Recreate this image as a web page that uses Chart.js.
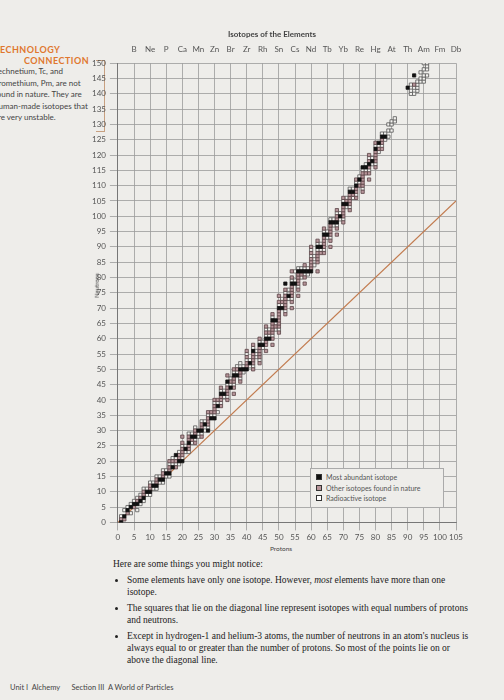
<!DOCTYPE html>
<html>
<head>
<meta charset="utf-8">
<script src="https://cdn.jsdelivr.net/npm/chart.js@4/dist/chart.umd.min.js"></script>
<style>
  html, body { margin: 0; padding: 0; }
  body { width: 504px; height: 700px; background: #eeedea; position: relative; overflow: hidden; font-family: Lato, sans-serif; color: #333; }
  #wrap { position: absolute; left: 88px; top: 30px; width: 390px; height: 514px; }
  #side { position: absolute; left: -6px; top: 44px; width: 100px; font-size: 8px; line-height: 11.5px; color: #444; }
  #side .h { color: #e0772e; font-weight: bold; font-size: 9px; letter-spacing: 0.5px; line-height: 11px; }
  #side .h2 { padding-left: 30px; }
  #bracket { position: absolute; left: 96px; top: 60px; width: 8px; height: 70px; border: 1px solid #c8a080; border-left: none; }
  #legend { position: absolute; left: 310px; top: 468px; width: 122px; border: 1px solid #aaa; background: #eeedea; font-size: 7px; color: #555; padding: 3px 5px; line-height: 10.5px; }
  #legend span { display: inline-block; width: 4px; height: 4px; margin-right: 4px; border: 1px solid #333; }
  #ylab { position: absolute; left: 84px; top: 282px; font-size: 6px; transform: rotate(-90deg); color: #444; }
  #xlab { position: absolute; left: 270px; top: 545px; font-size: 6.5px; color: #444; }
  #text { position: absolute; left: 113px; top: 558px; width: 360px; font-family: "Liberation Serif", serif; font-size: 9.5px; line-height: 12px; color: #222; }
  #text ul { margin: 4px 0 0 0; padding-left: 14px; }
  #text li { margin-bottom: 4px; }
  #foot { position: absolute; left: 10px; top: 683px; font-size: 7.5px; color: #444; }
</style>
</head>
<body>
<div id="side">
  <div class="h">TECHNOLOGY</div>
  <div class="h h2">CONNECTION</div>
  Technetium, Tc, and promethium, Pm, are not found in nature. They are human-made isotopes that are very unstable.
</div>
<div id="bracket"></div>
<div id="wrap"><canvas id="grafico-isotopos"></canvas></div>
<div id="ylab">Neutrons</div>
<div id="xlab">Protons</div>
<div id="legend">
  <div><span style="background:#111"></span>Most abundant isotope</div>
  <div><span style="background:#b8969b"></span>Other isotopes found in nature</div>
  <div><span style="background:#fff"></span>Radioactive isotope</div>
</div>
<div id="text">
  Here are some things you might notice:
  <ul>
    <li>Some elements have only one isotope. However, <i>most</i> elements have more than one isotope.</li>
    <li>The squares that lie on the diagonal line represent isotopes with equal numbers of protons and neutrons.</li>
    <li>Except in hydrogen-1 and helium-3 atoms, the number of neutrons in an atom's nucleus is always equal to or greater than the number of protons. So most of the points lie on or above the diagonal line.</li>
  </ul>
</div>
<div id="foot">Unit I &nbsp;Alchemy &nbsp;&nbsp;&nbsp;&nbsp;&nbsp;Section III &nbsp;A World of Particles</div>
<script>
(function () {
    'use strict';

    // element symbols along the top axis, every 5 protons
    var elementLabels = ['', 'B', 'Ne', 'P', 'Ca', 'Mn', 'Zn', 'Br', 'Zr', 'Rh', 'Sn', 'Cs', 'Nd', 'Tb', 'Yb', 'Re', 'Hg', 'At', 'Th', 'Am', 'Fm', 'Db'];

    // neutrons of the most abundant isotope, indexed by protons (null = none)
    var mostAbundantN = [null,
        0, 2, 4, 5, 6, 6, 7, 8, 10, 10, 12, 12, 14, 14, 16, 16, 18, 22, 20, 20,
        24, 26, 28, 28, 30, 30, 32, 30, 34, 34, 38, 42, 42, 46, 44, 48, 48, 50, 50, 50,
        52, 56, null, 58, 58, 60, 60, 66, 66, 70, 70, 78, 74, 78, 78, 82, 82, 82, 82, 82,
        null, 90, 90, 94, 94, 98, 98, 98, 100, 104, 104, 108, 108, 110, 112, 116, 116, 117, 118, 122,
        124, 126, 126, null, null, null, null, null, null, 142, null, 146, null, null, null];

    // other naturally occurring isotopes (neutrons), indexed by protons
    var otherN = [[],
        [1], [1], [3], [], [5], [7], [8], [9, 10], [], [11, 12],
        [], [13, 14], [], [15, 16], [], [17, 18, 20], [20], [18, 20], [21, 22], [22, 23, 24, 26, 28],
        [], [24, 25, 27, 28], [27], [26, 29, 30], [], [28, 31, 32], [], [32, 33, 34, 36], [36], [36, 37, 38, 40],
        [40], [38, 40, 41, 44], [], [40, 42, 43, 44, 48], [46], [42, 44, 46, 47, 50], [50], [46, 48, 49], [], [51, 52, 54, 56],
        [], [50, 52, 53, 54, 55, 58], [], [52, 54, 55, 56, 57, 60], [], [56, 58, 59, 62, 64], [62], [58, 60, 62, 63, 64, 65, 68], [64], [62, 64, 65, 66, 67, 68, 69, 72, 74],
        [72], [68, 70, 71, 72, 73, 74, 76], [], [70, 72, 74, 75, 76, 77, 80, 82], [], [74, 76, 78, 79, 80, 81], [81], [78, 80, 84], [], [83, 84, 85, 86, 88, 90],
        [], [82, 85, 86, 87, 88, 92], [88], [88, 90, 91, 92, 93, 96], [], [90, 92, 94, 95, 96, 97], [], [94, 96, 99, 100, 102], [], [98, 100, 101, 102, 103, 106],
        [105], [102, 104, 105, 106, 107], [107], [106, 108, 109, 112], [110], [108, 110, 111, 112, 113, 114], [114], [112, 114, 116, 118, 120], [], [116, 118, 119, 120, 121, 124],
        [122], [122, 124, 125], [], [], [], [], [], [], [], [],
        [], [143], [], [], []];

    // radioactive isotopes (neutrons), indexed by protons
    var radioN = [[],
        [2], [4], [5], [3, 6], [7], [4, 8], [6, 9], [7, 11], [9, 11], [9, 13],
        [11, 13], [11, 15], [13, 15], [13, 17], [15, 17], [15, 19], [19, 21], [19, 21], [19, 23], [21, 25],
        [23, 25], [23, 29], [26, 29], [27, 31], [28, 29], [29, 33], [30, 33], [31, 35], [35], [35, 39],
        [36, 39], [39, 43], [41, 43], [41, 45], [45, 47], [45, 49], [49, 51], [47, 52], [49, 51], [53, 55],
        [51, 53], [51, 57], [54, 55, 56], [53, 59], [57, 59], [61, 63], [61, 63], [61, 67], [63, 65], [63, 71],
        [71, 73], [69, 75], [73, 76], [73, 79], [79, 82], [77, 83], [80, 83], [81, 83], [81, 83], [87, 89],
        [84, 86, 87], [89, 91], [89, 91], [89, 95], [93, 95], [93, 99], [97, 99], [97, 101], [99, 101], [99, 105],
        [103, 106], [103, 109], [106, 109], [107, 111], [111, 113], [109, 115], [115, 117], [115, 119], [117, 119], [117, 123],
        [121, 123], [123, 127], [125, 127], [126, 128, 130], [128, 130, 131], [131, 132], [], [], [], [],
        [140, 141, 143], [140, 142], [141, 142, 143, 144], [144, 145, 147], [144, 145, 146, 148, 150], [146, 148, 149, 150, 151]];

    var diagonal = [0, 105];

    function pointsFromIndex(list) {
        var pts = [];
        list.forEach(function (ns, z) {
            if (ns === null) return;
            [].concat(ns).forEach(function (n) { pts.push({ x: z, y: n }); });
        });
        return pts;
    }

    var canvas = document.getElementById('grafico-isotopos');
    var tickFont = { family: 'Lato', size: 8 };

    new Chart(canvas, {
        type: 'scatter',
        data: {
            datasets: [
                {
                    label: 'Diagonal',
                    type: 'line',
                    data: diagonal.map(function (v) { return { x: v, y: v }; }),
                    borderColor: '#c27b4f',
                    borderWidth: 1.3,
                    pointRadius: 0,
                    order: 4
                },
                {
                    label: 'Radioactive isotope',
                    data: pointsFromIndex(radioN),
                    pointStyle: 'rect',
                    pointRadius: 2.3,
                    backgroundColor: '#f4f3f0',
                    borderColor: '#555',
                    borderWidth: 0.8,
                    order: 3
                },
                {
                    label: 'Other isotopes found in nature',
                    data: pointsFromIndex(otherN),
                    pointStyle: 'rect',
                    pointRadius: 2.3,
                    backgroundColor: '#b8969b',
                    borderColor: '#5a4446',
                    borderWidth: 0.8,
                    order: 2
                },
                {
                    label: 'Most abundant isotope',
                    data: pointsFromIndex(mostAbundantN),
                    pointStyle: 'rect',
                    pointRadius: 2.3,
                    backgroundColor: '#111',
                    borderColor: '#111',
                    borderWidth: 0.8,
                    order: 1
                }
            ]
        },
        options: {
            responsive: true,
            maintainAspectRatio: false,
            animation: false,
            layout: { padding: { right: 22 } },
            plugins: {
                legend: { display: false },
                tooltip: { enabled: false },
                title: {
                    display: true,
                    text: 'Isotopes of the Elements',
                    color: '#444',
                    font: { family: 'Lato', size: 8 },
                    padding: { top: 0, bottom: 4 },
                    align: 'center'
                }
            },
            scales: {
                x: {
                    type: 'linear', min: 0, max: 105,
                    ticks: { stepSize: 5, color: '#555', font: tickFont, maxRotation: 0, autoSkip: false, padding: 2 },
                    grid: { color: '#9a9a9a', lineWidth: 0.8 },
                    border: { color: '#777' }
                },
                x2: {
                    type: 'linear', position: 'top', min: 0, max: 105,
                    ticks: {
                        stepSize: 5, color: '#555', font: tickFont, maxRotation: 0, autoSkip: false, padding: 1,
                        callback: function (v) { return elementLabels[v / 5] || ''; }
                    },
                    grid: { display: false },
                    border: { display: false }
                },
                y: {
                    min: 0, max: 150,
                    ticks: { stepSize: 5, color: '#555', font: tickFont, autoSkip: false, padding: 4 },
                    grid: { color: '#9a9a9a', lineWidth: 0.8 },
                    border: { color: '#777' }
                }
            }
        }
    });
})();
</script>
</body>
</html>
